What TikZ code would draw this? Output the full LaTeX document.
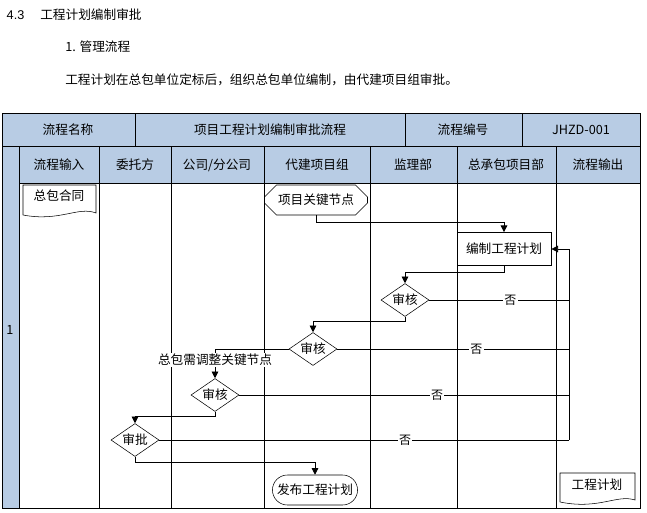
\documentclass[tikz,border=0pt]{standalone}
\usepackage{fontspec}
\setmainfont{Liberation Sans}
\newfontfamily\cjk{Noto Sans CJK SC}
\usetikzlibrary{shapes.geometric,shapes.misc,arrows.meta}
\definecolor{hdr}{HTML}{B8CCE4}
\tikzset{x=0.75pt,y=-0.75pt,
 txt/.style={font=\cjk\fontsize{9.5}{11}\selectfont,inner sep=0pt},
 dia/.style={diamond,draw,aspect=1.4,minimum width=48*0.75pt,minimum height=33*0.75pt,inner sep=0pt,font=\cjk\fontsize{9.5}{11}\selectfont},
 flow/.style={-{Triangle[length=5pt,width=5pt]},line width=0.6pt},
 back/.style={line width=0.6pt},
 no/.style={fill=white,inner sep=1pt,font=\cjk\fontsize{9}{10}\selectfont}}
\begin{document}
\begin{tikzpicture}
\useasboundingbox (0,0) rectangle (647,512);
\node[anchor=west,font=\fontsize{9.5}{11}\selectfont] (sec) at (2,15) {4.3\hspace{12pt}{\cjk 工程计划编制审批}};
\node[anchor=west,txt] (sub) at (65,47) {1. 管理流程};
\node[anchor=west,txt] (par) at (65,80) {工程计划在总包单位定标后，组织总包单位编制，由代建项目组审批。};
% header row
\fill[hdr] (2,113) rectangle (640,146);
\fill[hdr] (2,146) rectangle (19,508);
\fill[hdr] (19,146) rectangle (640,183);
\draw[line width=0.7pt] (2,113) rectangle (640,508);
\draw (2,146) -- (640,146) (19,146) -- (19,508) (19,183) -- (640,183);
\foreach \x in {135,405,522} \draw (\x,113) -- (\x,146);
\foreach \x in {99,171,264,370,457,556} \draw (\x,146) -- (\x,508);
\node[txt] (h1) at (68,130) {流程名称};
\node[txt] (h2) at (270,130) {项目工程计划编制审批流程};
\node[txt] (h3) at (463,130) {流程编号};
\node[txt] (h4) at (581,130) {JHZD-001};
\node[txt] (l1) at (59,165) {流程输入};
\node[txt] (l2) at (135,165) {委托方};
\node[txt] (l3) at (217,165) {公司/分公司};
\node[txt] (l4) at (317,165) {代建项目组};
\node[txt] (l5) at (413,165) {监理部};
\node[txt] (l6) at (506,165) {总承包项目部};
\node[txt] (l7) at (598,165) {流程输出};
\node[txt] (one) at (10,330) {1};
% documents
\draw[fill=white] (23,185) -- (96,185) -- (96,213) .. controls (78,206) and (60,222) .. (23,215) -- cycle;
\node[txt] (in) at (59,196) {总包合同};
\draw[fill=white] (560,473) -- (635,473) -- (635,500) .. controls (617,494) and (599,510) .. (560,502) -- cycle;
\node[txt] (out) at (597,485) {工程计划};
% nodes
\node[draw,chamfered rectangle,chamfered rectangle xsep=10pt,minimum width=103*0.75pt,minimum height=30*0.75pt,inner sep=1pt,font=\cjk\fontsize{9.5}{11}\selectfont] (key) at (316,200) {项目关键节点};
\node[draw,minimum width=94*0.75pt,minimum height=33*0.75pt,inner sep=1pt,font=\cjk\fontsize{9.5}{11}\selectfont,line width=0.6pt] (plan) at (504,249) {编制工程计划};
\node[dia] (d1) at (405,300) {审核};
\node[dia] (d2) at (313,349) {审核};
\node[dia] (d3) at (215,395) {审核};
\node[dia] (d4) at (135,440) {审批};
\node[draw,rounded rectangle,minimum width=94*0.75pt,minimum height=30*0.75pt,font=\cjk\fontsize{9.5}{11}\selectfont] (pub) at (315,490) {发布工程计划};
\coordinate (rt) at (569,249);
% flows
\draw[flow] (key.south) |- (504,222) -- (plan.north);
\draw[flow] (plan.south) |- (405,272) -- (d1.north);
\draw[flow] (d1.south) |- (313,321) -- (d2.north);
\draw[flow] (d2.west) -| (d3.north);
\node[txt,fill=white,inner sep=1pt] (adj) at (215,360) {总包需调整关键节点};
\draw[flow] (d3.south) |- (135,416) -- (d4.north);
\draw[flow] (d4.south) |- (315,462) -- (pub.north);
% back
\draw[back] (d1.east) -- (569,300) node[no,pos=0.58] (n1) {否};
\draw[back] (d2.east) -- (569,349) node[no,pos=0.6] (n2) {否};
\draw[back] (d3.east) -- (569,395) node[no,pos=0.6] (n3) {否};
\draw[back] (d4.east) -- (569,440) node[no,pos=0.6] (n4) {否};
\draw[flow] (569,440) -- (rt) -- (plan.east);
\end{tikzpicture}
\end{document}
